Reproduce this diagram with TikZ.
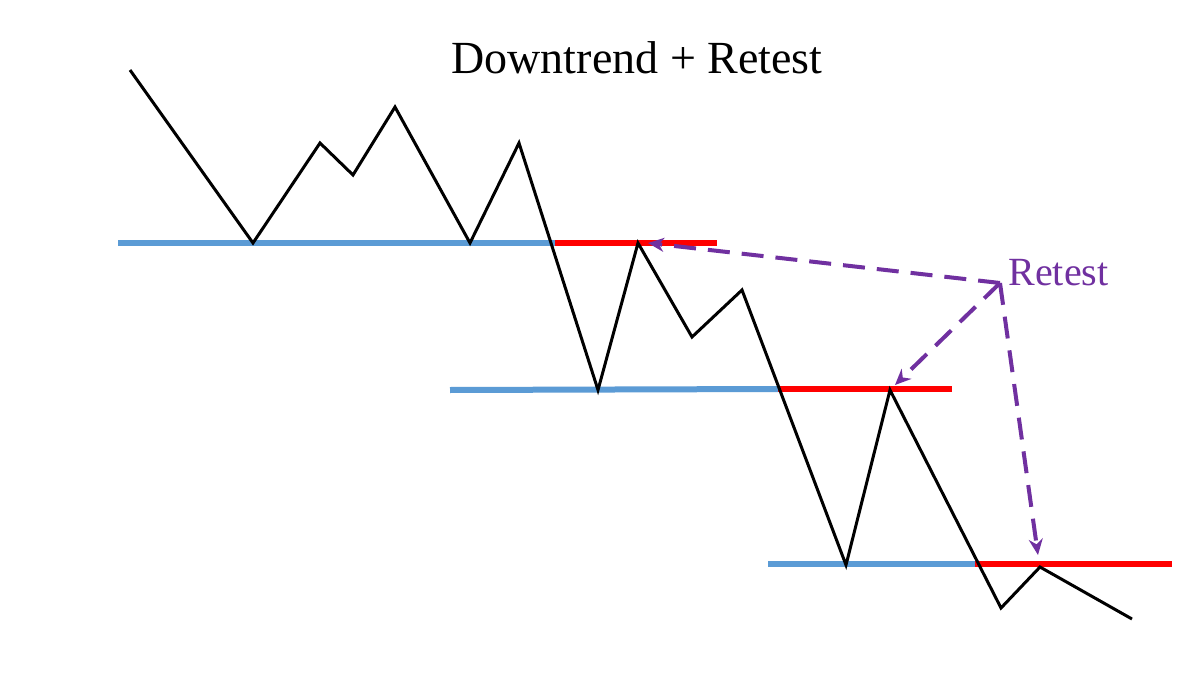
\documentclass[tikz,border=0pt]{standalone}
\usepackage{fontspec}
\setmainfont{Liberation Serif}
\usetikzlibrary{arrows.meta}
\definecolor{lblue}{HTML}{5B9BD5}
\definecolor{lred}{HTML}{FF0000}
\definecolor{lpurp}{HTML}{7030A0}
\begin{document}
\begin{tikzpicture}[x=1pt,y=-1pt,
  price/.style={black,line width=3pt,line join=miter},
  support/.style={lblue,line width=6pt},
  resist/.style={lred,line width=6pt},
  retarrow/.style={lpurp,line width=4pt,dash pattern=on 22pt off 12pt,-{Stealth[length=16pt,width=14pt,open,line width=3pt]}}]
\useasboundingbox[fill=white] (0,0) rectangle (1200,693);
\node (title) at (637,58) {\fontsize{46}{55}\selectfont Downtrend + Retest};
\draw[support] (118,243) -- (555,243);
\draw[resist] (555,243) -- (717,243);
\draw[support] (450,390) -- (778,389);
\draw[resist] (778,389) -- (952,389);
\draw[support] (768,564) -- (975,564);
\draw[resist] (975,564) -- (1172,564);
\draw[price] (130,70) -- (253,243) -- (320,143) -- (353,175) -- (395,107) -- (470,243) -- (519,143) -- (598,390) -- (638,243) -- (692,337) -- (742,290) -- (846,565) -- (890,390) -- (1001,608) -- (1040,567) -- (1132,619);
\node[lpurp,anchor=west] (retest) at (1005,273) {\fontsize{40}{48}\selectfont Retest};
\coordinate (hub) at (1000,283);
\coordinate (t1) at (648,243);
\coordinate (t2) at (895,385);
\coordinate (t3) at (1038,555);
\draw[retarrow] (hub) -- (t1);
\draw[retarrow] (hub) -- (t2);
\draw[retarrow] (hub) -- (t3);
\end{tikzpicture}
\end{document}
